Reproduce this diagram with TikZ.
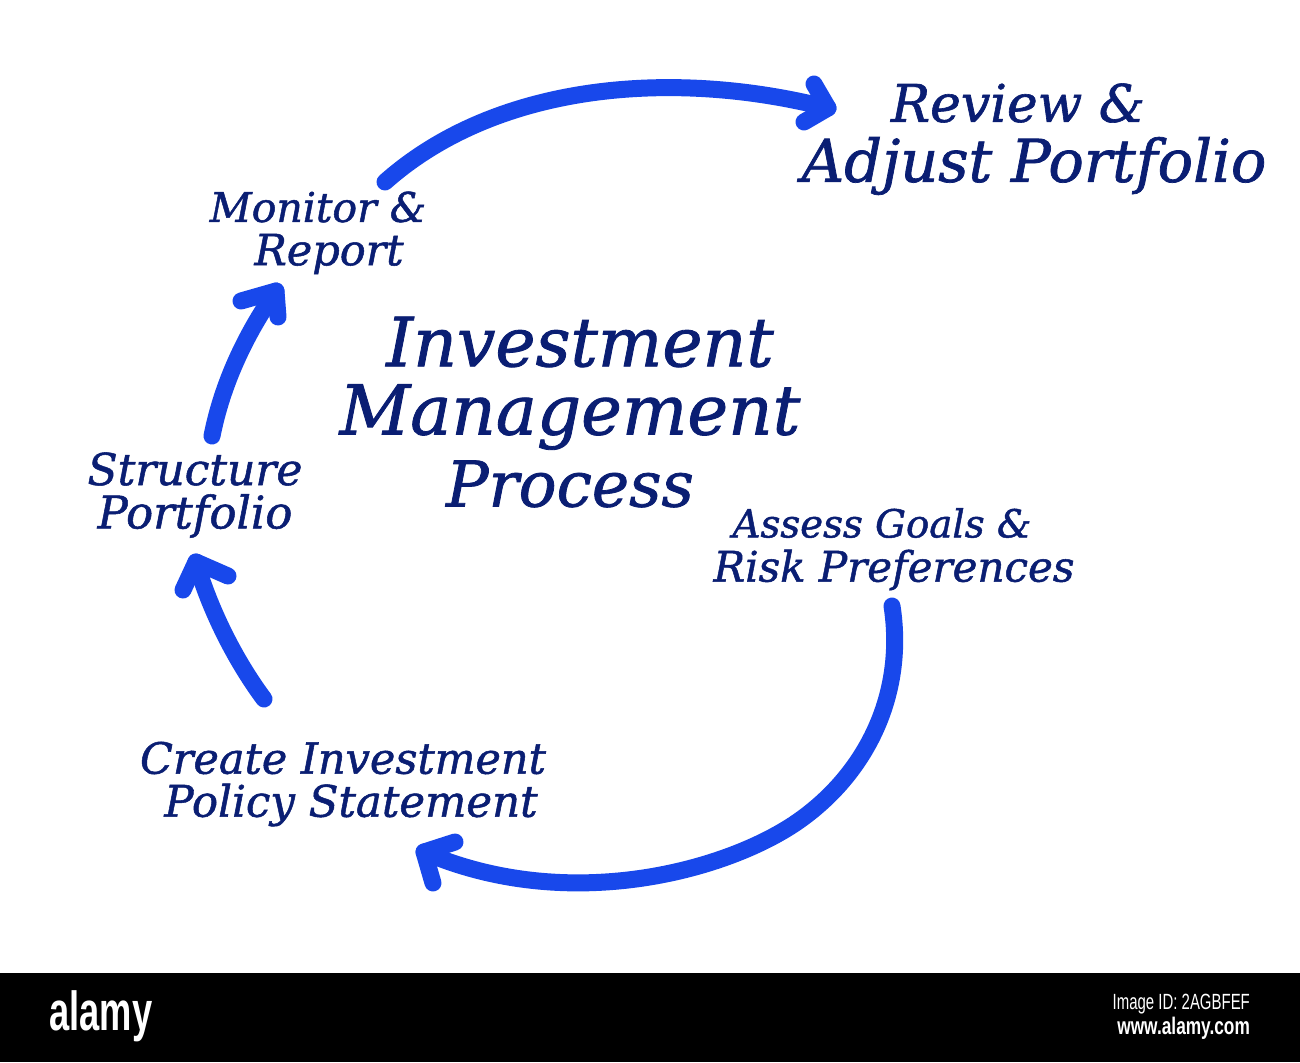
\documentclass[tikz,border=0pt]{standalone}
\usepackage{fontspec}
\setmainfont{DejaVu Serif}[ItalicFeatures={FakeBold=1.2}]
\newfontfamily\barfont{Liberation Sans}
\definecolor{ink}{RGB}{10,30,115}
\definecolor{arc}{RGB}{24,72,235}
\tikzset{
  lbl/.style={text=ink,align=center,inner sep=0pt},
  flow/.style={draw=arc,line width=17pt,line cap=round,line join=round},
  foot/.style={inner sep=0pt,text=white,transform shape}
}
\newcommand{\fs}[1]{\fontsize{#1}{#1}\selectfont}
\begin{document}
\begin{tikzpicture}[x=1pt,y=-1pt]
\useasboundingbox (0,0) rectangle (1300,1062);
\fill[white] (0,0) rectangle (1300,1062);
\fill[black] (0,973) rectangle (1300,1062);
% labels
\node[lbl,font=\itshape\fs{52}] (review) at (1018,103) {Review \&};
\node[lbl,font=\itshape\fs{59}] (adjust) at (1034,166) {Adjust Portfolio};
\node[lbl,font=\itshape\fs{41}] (monitor) at (318,207) {Monitor \&};
\node[lbl,font=\itshape\fs{43}] (report) at (329,254) {Report};
\node[lbl,font=\itshape\fs{68}] (inv) at (580,342) {Investment};
\node[lbl,font=\itshape\fs{69}] (mgmt) at (570,417) {Management};
\node[lbl,font=\itshape\fs{63}] (proc) at (570,484) {Process};
\node[lbl,font=\itshape\fs{44}] (struct) at (195,469) {Structure};
\node[lbl,font=\itshape\fs{45}] (portf) at (195,516) {Portfolio};
\node[lbl,font=\itshape\fs{38.7}] (assess) at (882,523) {Assess Goals \&};
\node[lbl,font=\itshape\fs{42}] (risk) at (894,570) {Risk Preferences};
\node[lbl,font=\itshape\fs{43}] (create) at (343,758) {Create Investment};
\node[lbl,font=\itshape\fs{43.5}] (policy) at (351,805) {Policy Statement};
% free ends of the arrows
\coordinate (a1s) at (385,182); \coordinate (a1e) at (828,108);
\coordinate (a2s) at (212,436); \coordinate (a2e) at (276,291);
\coordinate (a3s) at (264,699); \coordinate (a3e) at (196,562);
\coordinate (a4s) at (892,606); \coordinate (a4m) at (800,820); \coordinate (a4e) at (424,852);
% arrows
\draw[flow] (a1s) .. controls (500,80) and (680,70) .. (a1e);
\draw[flow] (814,84) -- (a1e) -- (804,122);
\draw[flow] (a2s) .. controls (222,385) and (245,335) .. (a2e);
\draw[flow] (241,301) -- (a2e) -- (278,317);
\draw[flow] (a3s) .. controls (235,660) and (210,610) .. (a3e);
\draw[flow] (183,590) -- (a3e) -- (228,576);
\draw[flow] (a4s) .. controls (905,690) and (870,770) .. (a4m) .. controls (730,870) and (570,915) .. (a4e);
\draw[flow] (455,842) -- (a4e) -- (433,883);
% footer
\node[foot,xscale=.66,font=\barfont\bfseries\fs{55}] (alamy) at (101,1016) {alamy};
\node[foot,anchor=east,xscale=.68,font=\barfont\fs{22}] (imgid) at (1250,1004) {Image ID: 2AGBFEF};
\node[foot,anchor=east,xscale=.72,font=\barfont\bfseries\fs{24}] (www) at (1250,1028) {www.alamy.com};
\end{tikzpicture}
\end{document}
